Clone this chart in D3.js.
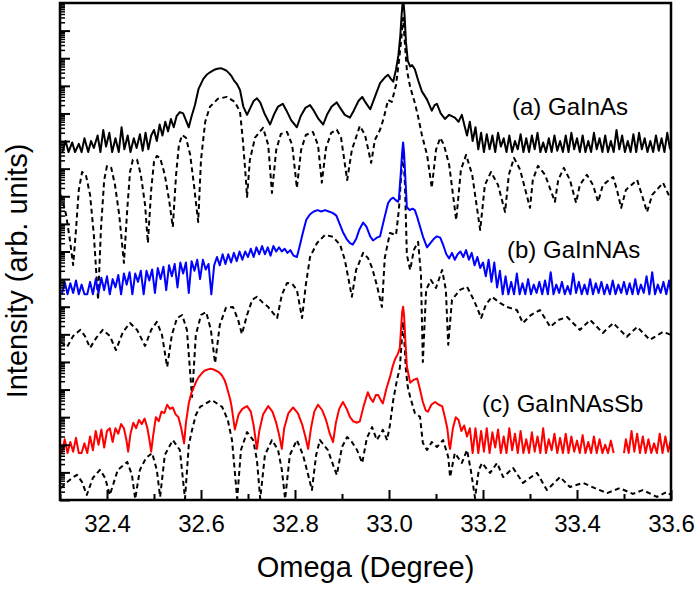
<!DOCTYPE html>
<html>
<head>
<meta charset="utf-8">
<script src="https://cdn.jsdelivr.net/npm/d3@7"></script>
<style>
body { margin: 0; background: #fff; }
text { font-family: "Liberation Sans", Arial, sans-serif; }
</style>
</head>
<body>
<script>
// x ticks
var xMajor = [32.4, 32.6, 32.8, 33.0, 33.2, 33.4, 33.6];
var xMinor = [32.3, 32.5, 32.7, 32.9, 33.1, 33.3, 33.5];
var sampleLabels = ["(a) GaInAs", "(b) GaInNAs", "(c) GaInNAsSb"];

// curves: [omega (deg), log10 intensity (arb.)], curves are stacked by offset
var gainasMeas = [[32.305,12.6],[32.312,13.0],[32.318,12.6],[32.326,12.95],[32.332,12.6],[32.340,12.9],[32.346,12.6],[32.352,13.1],[32.360,12.6],[32.366,13.0],[32.372,12.75],[32.380,13.2],[32.386,12.6],[32.392,13.4],[32.398,12.8],[32.405,13.3],[32.411,12.6],[32.418,13.1],[32.425,12.6],[32.431,13.5],[32.437,12.7],[32.444,13.2],[32.450,12.6],[32.457,13.1],[32.463,12.75],[32.470,13.25],[32.476,12.65],[32.482,13.3],[32.488,12.7],[32.494,13.2],
  [32.500,13.4],[32.506,13.0],[32.512,13.6],[32.518,13.2],[32.524,13.7],[32.530,13.35],[32.536,13.8],[32.542,13.5],[32.548,13.9],[32.555,14.05],[32.562,14.0],[32.568,13.75],[32.574,13.5],[32.580,13.9],[32.587,14.3],[32.595,14.9],[32.605,15.25],[32.612,15.4],[32.620,15.5],[32.628,15.58],[32.635,15.62],[32.642,15.64],[32.648,15.6],[32.654,15.55],[32.660,15.45],[32.665,15.35],[32.670,15.2],[32.677,15.05],[32.683,14.85],[32.690,14.25],[32.698,13.95],
  [32.705,14.2],[32.712,14.45],[32.719,14.55],[32.726,14.4],[32.735,14.0],[32.747,13.6],[32.755,13.95],[32.764,14.25],[32.774,14.35],[32.782,14.1],[32.792,13.75],[32.804,13.5],[32.812,13.9],[32.822,14.2],[32.832,14.3],[32.840,14.1],[32.850,13.8],[32.860,13.6],[32.868,13.95],[32.878,14.25],[32.889,14.4],[32.896,14.2],[32.906,13.95],[32.917,13.85],[32.925,14.1],[32.935,14.45],[32.943,14.6],[32.950,14.4],[32.960,14.15],[32.970,14.6],[32.981,15.1],[32.991,15.3],[32.998,15.4],[33.004,15.25],[33.009,15.15],[33.015,15.6],[33.020,16.1],[33.024,16.8],[33.027,17.6],[33.030,18.2],[33.033,17.6],[33.036,16.6],[33.040,15.9],[33.045,15.7],[33.049,15.75],[33.055,15.6],[33.062,15.2],[33.070,14.8],[33.081,14.5],[33.091,14.1],[33.097,14.3],[33.102,14.35],[33.110,14.0],[33.119,13.8],[33.128,13.95],[33.140,13.85],[33.148,13.7],[33.155,13.95],
  [33.160,13.6],[33.166,13.2],[33.172,13.7],[33.178,13.0],[33.184,13.5],[33.190,12.7],[33.196,13.3],[33.202,12.6],[33.208,13.25],[33.214,12.7],[33.220,13.2],[33.226,12.6],[33.232,13.3],[33.238,12.8],[33.244,13.1],[33.250,12.6],[33.256,13.2],[33.262,12.6],[33.268,13.0],[33.274,12.7],[33.280,13.25],[33.286,12.6],[33.292,13.1],[33.298,12.6],[33.304,13.2],[33.310,12.7],[33.316,13.3],[33.322,12.6],[33.328,12.95],[33.334,12.6],[33.340,13.1],[33.346,12.6],[33.352,13.2],[33.358,12.65],[33.364,13.0],[33.370,12.6],[33.376,13.2],[33.382,12.6],[33.388,13.3],[33.394,12.7],[33.400,13.1],[33.406,12.6],[33.412,13.2],[33.418,12.6],[33.424,13.0],[33.430,12.6],[33.436,13.3],[33.442,12.7],[33.448,13.1],[33.454,12.6],[33.460,13.2],[33.466,12.6],[33.472,13.0],[33.478,12.6],[33.484,13.4],[33.490,12.7],[33.496,13.2],[33.502,12.6],[33.508,13.0],[33.514,12.6],[33.520,13.25],[33.526,12.6],[33.532,13.3],[33.538,12.7],[33.544,13.1],[33.550,12.6],[33.556,13.0],[33.562,12.6],[33.568,13.2],[33.574,12.65],[33.580,13.1],[33.586,12.6],[33.592,13.3],[33.598,12.7]];

var gainasSim = [[32.302,11.05],[32.313,10.33],[32.321,9.42],[32.328,8.51],[32.334,9.78],[32.340,11.23],[32.347,11.88],[32.355,11.78],[32.364,11.05],[32.372,9.60],[32.381,7.25],[32.387,9.78],[32.394,11.59],[32.400,12.10],[32.409,12.03],[32.417,11.41],[32.426,10.33],[32.436,8.59],[32.443,10.51],[32.449,11.88],[32.455,12.32],[32.464,12.32],[32.472,11.78],[32.481,10.69],[32.487,9.31],[32.494,11.23],[32.500,12.25],[32.506,12.46],[32.513,12.39],[32.523,11.78],[32.532,10.87],[32.540,9.89],[32.547,11.78],[32.553,12.86],[32.560,13.22],[32.568,13.12],[32.577,12.50],[32.585,11.41],[32.594,10.07],[32.600,12.32],[32.609,13.70],[32.619,14.24],[32.636,14.53],[32.655,14.60],[32.672,14.42],[32.683,14.06],[32.689,13.04],[32.694,11.96],[32.698,10.98],[32.704,12.32],[32.715,13.12],[32.732,13.48],[32.743,12.86],[32.751,11.12],[32.760,12.68],[32.770,13.26],[32.783,13.33],[32.794,12.86],[32.804,11.30],[32.813,12.68],[32.823,13.22],[32.838,13.33],[32.849,12.86],[32.857,11.49],[32.866,12.75],[32.877,13.30],[32.889,13.41],[32.898,13.12],[32.911,11.59],[32.921,12.68],[32.938,13.55],[32.949,13.22],[32.962,12.21],[32.970,13.04],[32.981,13.41],[32.989,13.84],[32.998,14.49],[33.006,14.42],[33.015,15.04],[33.021,15.87],[33.026,16.67],[33.030,17.46],[33.034,16.49],[33.038,15.58],[33.045,14.96],[33.055,14.38],[33.062,13.88],[33.070,13.22],[33.081,12.50],[33.091,11.30],[33.100,12.68],[33.109,13.12],[33.117,12.86],[33.128,12.14],[33.143,10.14],[33.153,11.96],[33.164,12.50],[33.177,11.78],[33.194,9.78],[33.204,11.41],[33.217,11.88],[33.232,11.41],[33.247,10.43],[33.255,11.78],[33.266,12.39],[33.279,11.96],[33.300,10.58],[33.306,11.59],[33.317,12.10],[33.332,11.78],[33.353,10.80],[33.360,11.59],[33.372,12.03],[33.385,11.59],[33.398,10.76],[33.406,11.41],[33.421,11.78],[33.434,11.41],[33.445,10.80],[33.455,11.41],[33.477,11.70],[33.485,11.23],[33.494,10.58],[33.504,11.23],[33.528,11.59],[33.538,11.05],[33.549,10.43],[33.560,11.05],[33.583,11.49],[33.600,10.87]];

var gainnasMeas = [[32.304,7.45],[32.310,7.9],[32.316,7.45],[32.322,7.85],[32.328,7.5],[32.334,7.95],[32.340,7.45],[32.346,7.8],[32.352,7.45],[32.358,7.45],[32.364,7.9],[32.370,7.45],[32.376,8.0],[32.382,7.5],[32.388,8.05],[32.394,7.6],[32.400,8.1],[32.406,7.45],[32.412,8.0],[32.418,7.7],[32.424,8.15],[32.430,7.45],[32.436,8.2],[32.442,7.8],[32.448,8.25],[32.454,7.45],[32.460,8.2],[32.466,7.9],[32.472,8.3],[32.478,7.45],[32.484,8.3],[32.490,7.95],[32.496,8.35],[32.502,7.5],[32.508,8.4],[32.514,8.0],[32.520,8.45],[32.526,7.6],[32.532,8.5],[32.538,8.1],[32.544,8.55],[32.550,7.7],[32.556,8.6],[32.562,8.2],[32.568,8.6],[32.574,7.5],[32.580,8.65],[32.586,8.3],[32.592,8.7],[32.598,8.0],[32.604,8.7],[32.610,8.35],[32.616,8.55],[32.622,7.45],[32.628,8.5],[32.634,8.8],[32.640,8.5],[32.646,8.9],[32.652,8.55],[32.658,8.9],[32.664,8.6],[32.670,8.95],[32.676,8.65],[32.682,9.0],[32.688,8.7],[32.694,9.0],[32.700,8.8],[32.706,9.1],[32.712,8.8],[32.718,9.15],[32.724,8.9],[32.730,9.2],[32.736,8.9],[32.742,9.15],[32.748,8.85],[32.754,9.2],[32.760,9.0],[32.766,9.15],[32.772,9.0],[32.778,9.1],[32.784,8.95],[32.790,9.05],[32.797,8.85],[32.804,8.8],[32.810,9.2],[32.817,9.7],[32.824,10.15],[32.832,10.35],[32.840,10.45],[32.848,10.5],[32.856,10.45],[32.864,10.5],[32.872,10.45],[32.880,10.4],[32.888,10.3],[32.895,10.0],[32.902,9.7],[32.910,9.45],[32.917,9.3],[32.923,9.25],[32.930,9.45],[32.937,9.8],[32.945,10.05],[32.952,9.9],[32.960,9.55],[32.966,9.4],[32.974,9.5],[32.981,9.55],[32.990,10.2],[32.998,10.75],[33.004,10.9],[33.009,10.95],[33.015,10.85],[33.019,10.8],[33.021,10.9],[33.025,11.8],[33.028,12.6],[33.030,12.95],[33.032,12.6],[33.035,11.6],[33.038,10.6],[33.044,10.5],[33.050,10.55],[33.055,10.5],[33.060,10.25],[33.066,9.9],[33.073,9.5],[33.081,9.15],[33.088,9.3],[33.095,9.45],[33.102,9.55],[33.109,9.5],[33.116,9.2],[33.122,8.9],[33.128,8.75],[33.134,8.95],[33.140,8.7],[33.146,8.9],[33.152,9.0],[33.158,8.8],[33.164,9.05],[33.170,8.7],[33.176,8.95],[33.182,8.5],[33.188,8.8],[33.194,8.4],[33.200,8.6],[33.206,8.1],[33.212,8.7],[33.218,7.9],[33.224,8.6],[33.230,7.7],[33.236,8.3],[33.242,7.45],[33.248,8.1],[33.254,7.45],[33.260,7.9],[33.266,7.45],[33.272,8.2],[33.278,7.45],[33.284,7.85],[33.290,7.45],[33.296,8.0],[33.302,7.45],[33.308,7.8],[33.314,7.5],[33.320,7.9],[33.326,7.45],[33.332,7.95],[33.338,7.45],[33.344,8.25],[33.350,7.45],[33.356,7.8],[33.362,7.5],[33.368,7.9],[33.374,7.45],[33.380,7.75],[33.386,7.45],[33.392,8.2],[33.398,7.5],[33.404,7.9],[33.410,7.45],[33.416,7.8],[33.422,7.45],[33.428,8.0],[33.434,7.45],[33.440,7.85],[33.446,7.5],[33.452,7.9],[33.458,7.45],[33.464,7.8],[33.470,7.45],[33.476,7.95],[33.482,7.45],[33.488,7.8],[33.494,7.5],[33.500,7.9],[33.506,7.45],[33.512,7.85],[33.518,7.45],[33.524,8.0],[33.530,7.45],[33.536,7.8],[33.542,7.5],[33.548,8.1],[33.554,7.45],[33.560,8.25],[33.566,7.45],[33.572,7.8],[33.578,7.5],[33.584,7.9],[33.590,7.45],[33.596,7.95],[33.600,7.5]];

var gainnasSim = [[32.302,5.72],[32.315,5.54],[32.328,5.94],[32.343,6.16],[32.353,5.94],[32.364,5.51],[32.377,5.87],[32.391,6.16],[32.406,5.94],[32.419,5.43],[32.434,6.09],[32.449,6.41],[32.464,6.16],[32.481,5.58],[32.494,6.16],[32.506,6.45],[32.517,5.98],[32.528,4.82],[32.538,5.98],[32.549,6.59],[32.560,6.70],[32.570,6.16],[32.581,3.73],[32.589,5.98],[32.600,6.70],[32.611,6.81],[32.621,6.16],[32.630,4.96],[32.640,6.34],[32.653,6.96],[32.668,6.99],[32.679,6.52],[32.687,6.01],[32.698,6.70],[32.709,7.25],[32.719,7.36],[32.732,7.14],[32.743,6.99],[32.753,6.78],[32.762,6.59],[32.772,7.43],[32.783,7.86],[32.794,7.83],[32.804,7.61],[32.815,6.59],[32.823,7.79],[32.832,8.80],[32.847,9.31],[32.864,9.60],[32.881,9.53],[32.896,9.24],[32.906,8.70],[32.913,8.08],[32.921,7.36],[32.930,8.33],[32.945,8.95],[32.955,8.77],[32.964,8.41],[32.974,7.79],[32.985,6.99],[32.991,8.77],[33.002,9.67],[33.015,9.60],[33.021,10.51],[33.026,11.78],[33.030,12.61],[33.034,11.41],[33.038,8.88],[33.045,8.33],[33.053,9.06],[33.062,9.35],[33.068,8.15],[33.072,5.00],[33.079,7.61],[33.089,7.97],[33.100,7.68],[33.113,8.33],[33.121,7.61],[33.126,5.62],[33.134,7.25],[33.151,7.61],[33.166,7.72],[33.177,7.36],[33.187,6.99],[33.196,6.59],[33.206,7.07],[33.219,7.36],[33.236,7.14],[33.251,6.99],[33.272,6.88],[33.285,6.41],[33.302,6.70],[33.321,6.88],[33.343,6.27],[33.360,6.52],[33.379,6.63],[33.406,6.16],[33.428,6.52],[33.455,6.05],[33.477,6.41],[33.506,5.91],[33.528,6.27],[33.555,5.80],[33.583,6.09],[33.600,5.98]];

var gainnassbMeas = [[32.304,1.7],[32.310,2.2],[32.316,1.7],[32.322,2.1],[32.328,1.75],[32.334,2.25],[32.340,1.7],[32.346,1.7],[32.352,2.05],[32.358,1.7],[32.364,2.3],[32.370,1.8],[32.376,2.5],[32.382,2.0],[32.388,2.55],[32.394,1.9],[32.400,2.5],[32.406,2.6],[32.412,2.1],[32.418,2.6],[32.424,2.4],[32.430,2.75],[32.436,2.6],[32.441,2.2],[32.445,1.75],[32.450,2.4],[32.456,2.8],[32.462,2.6],[32.468,2.9],[32.474,2.75],[32.480,2.95],[32.486,2.6],[32.491,2.1],[32.494,1.75],[32.498,2.3],[32.504,3.0],[32.510,2.85],[32.516,3.2],[32.522,3.15],[32.528,3.45],[32.534,3.3],[32.540,3.35],[32.546,3.1],[32.552,3.0],[32.558,2.6],[32.564,2.05],[32.568,2.8],[32.574,3.5],[32.580,3.9],[32.585,4.1],[32.590,4.3],[32.595,4.45],[32.600,4.55],[32.605,4.65],[32.610,4.7],[32.615,4.73],[32.620,4.75],[32.625,4.74],[32.630,4.7],[32.635,4.66],[32.640,4.6],[32.645,4.5],[32.650,4.35],[32.654,4.15],[32.658,3.9],[32.662,3.65],[32.665,3.4],[32.672,2.55],[32.680,3.1],[32.688,3.3],[32.698,3.4],[32.706,3.2],[32.712,2.7],[32.716,2.2],[32.719,1.85],[32.724,2.5],[32.732,3.1],[32.743,3.4],[32.752,3.2],[32.760,2.8],[32.767,2.3],[32.772,1.85],[32.777,2.6],[32.786,3.15],[32.796,3.35],[32.806,3.15],[32.815,2.75],[32.822,2.3],[32.828,1.85],[32.834,2.6],[32.841,3.2],[32.849,3.45],[32.858,3.25],[32.866,2.9],[32.874,2.4],[32.881,2.1],[32.887,2.8],[32.894,3.3],[32.902,3.55],[32.910,3.3],[32.917,3.0],[32.924,2.85],[32.932,2.8],[32.938,2.85],[32.946,3.4],[32.955,3.9],[32.960,3.7],[32.966,3.55],[32.972,3.8],[32.977,3.8],[32.983,3.6],[32.987,3.5],[32.994,4.0],[33.002,4.45],[33.008,4.85],[33.013,5.1],[33.019,5.3],[33.023,5.5],[33.026,6.3],[33.028,6.8],[33.030,7.0],[33.032,6.7],[33.035,5.7],[33.038,4.85],[33.042,4.5],[33.045,4.25],[33.052,4.35],[33.060,4.4],[33.066,4.0],[33.072,3.55],[33.078,3.25],[33.083,3.2],[33.090,3.45],[33.098,3.55],[33.106,3.45],[33.113,3.4],[33.119,3.0],[33.124,2.6],[33.128,2.0],[33.130,1.85],[33.136,2.6],[33.142,3.0],[33.148,2.9],[33.154,2.5],[33.160,2.7],[33.166,2.3],[33.172,2.6],[33.178,1.7],[33.184,2.6],[33.190,1.7],[33.196,2.5],[33.202,1.75],[33.208,2.6],[33.214,1.7],[33.220,2.45],[33.226,1.9],[33.232,2.55],[33.238,1.7],[33.244,2.3],[33.250,1.7],[33.256,2.6],[33.262,1.8],[33.268,2.4],[33.274,1.7],[33.280,2.5],[33.286,1.7],[33.292,2.2],[33.298,1.7],[33.304,2.45],[33.310,1.75],[33.316,2.3],[33.322,1.7],[33.328,2.6],[33.334,1.7],[33.340,2.2],[33.346,1.8],[33.352,2.4],[33.358,1.7],[33.364,2.25],[33.370,1.7],[33.376,2.4],[33.382,1.7],[33.388,2.3],[33.394,1.75],[33.400,2.15],[33.406,1.7],[33.412,2.35],[33.418,1.7],[33.424,2.1],[33.430,1.7],[33.436,2.3],[33.442,1.7],[33.448,2.2],[33.454,1.7],[33.460,2.0],[33.466,1.7],[33.472,2.15],[33.478,1.7],[33.484,null],[33.500,1.7],[33.504,2.2],[33.510,1.7],[33.516,2.5],[33.522,1.75],[33.528,2.4],[33.534,1.7],[33.540,2.3],[33.546,1.7],[33.552,2.2],[33.558,1.7],[33.564,2.05],[33.570,1.7],[33.576,2.4],[33.582,1.7],[33.588,2.3],[33.594,1.75],[33.600,2.2]];

var gainnassbSim = [[32.302,0.43],[32.313,0.62],[32.326,0.80],[32.336,0.91],[32.347,0.65],[32.357,0.18],[32.370,0.80],[32.385,1.09],[32.396,0.80],[32.406,0.18],[32.423,1.09],[32.443,1.38],[32.453,0.91],[32.460,0.04],[32.470,1.09],[32.483,1.52],[32.496,1.70],[32.506,1.09],[32.513,0.11],[32.523,1.63],[32.540,2.17],[32.555,1.81],[32.566,0.04],[32.574,1.99],[32.581,2.54],[32.589,3.08],[32.598,3.37],[32.623,3.62],[32.645,3.37],[32.657,2.90],[32.666,2.17],[32.677,0.04],[32.685,1.81],[32.698,2.46],[32.711,2.17],[32.719,1.45],[32.726,0.04],[32.736,1.63],[32.751,2.17],[32.764,1.81],[32.772,1.09],[32.779,0.04],[32.789,1.63],[32.804,2.17],[32.817,1.63],[32.828,0.91],[32.836,0.36],[32.845,1.63],[32.853,2.17],[32.870,1.81],[32.881,1.27],[32.889,0.91],[32.900,1.92],[32.911,2.28],[32.921,2.10],[32.932,1.81],[32.943,1.34],[32.953,2.25],[32.964,2.64],[32.974,2.17],[32.981,2.36],[32.987,2.54],[32.996,2.17],[33.002,2.72],[33.009,3.62],[33.017,4.35],[33.023,4.78],[33.028,5.98],[33.030,6.45],[33.032,5.98],[33.036,4.71],[33.040,4.09],[33.045,3.73],[33.055,3.15],[33.066,3.01],[33.072,2.07],[33.081,1.81],[33.091,2.10],[33.102,1.92],[33.115,2.17],[33.126,1.56],[33.130,0.83],[33.140,1.70],[33.155,1.34],[33.166,1.81],[33.174,1.09],[33.183,0.07],[33.191,1.09],[33.198,1.34],[33.215,0.98],[33.230,1.34],[33.243,0.83],[33.264,1.16],[33.285,0.62],[33.315,0.98],[33.336,0.36],[33.364,0.83],[33.385,0.47],[33.413,0.62],[33.438,0.43],[33.464,0.25],[33.491,0.43],[33.519,0.22],[33.540,0.36],[33.570,0.11],[33.591,0.29],[33.600,0.18]];

var width = 700, height = 589;
// plot box edges (note: "top" is a reserved window name)
var plotL = 60, plotR = 671, plotT = 3, plotB = 500;

var svg = d3.select("body").append("svg")
  .attr("width", width)
  .attr("height", height);

var x = d3.scaleLinear().domain([32.3, 33.6]).range([plotL, plotR]);
var y = d3.scaleLog().domain([1, 1e18]).range([plotB, plotT]);

svg.append("clipPath").attr("id", "plot")
  .append("rect").attr("x", plotL).attr("y", plotT)
  .attr("width", plotR - plotL).attr("height", plotB - plotT);

var line = d3.line()
  .defined(function(d) { return d[1] != null; })
  .x(function(d) { return x(d[0]); })
  .y(function(d) { return y(Math.pow(10, d[1])); });

var curves = [
  {data: gainasSim, color: "#000", dash: "5,3.5"},
  {data: gainnasSim, color: "#000", dash: "5,3.5"},
  {data: gainnassbSim, color: "#000", dash: "5,3.5"},
  {data: gainasMeas, color: "#000", dash: null},
  {data: gainnasMeas, color: "#0000ff", dash: null},
  {data: gainnassbMeas, color: "#ff0000", dash: null}
];

var g = svg.append("g").attr("clip-path", "url(#plot)");
g.selectAll("path")
  .data(curves).enter().append("path")
  .attr("d", function(d) { return line(d.data); })
  .attr("fill", "none")
  .attr("stroke", function(d) { return d.color; })
  .attr("stroke-width", 2)
  .attr("stroke-linejoin", "round")
  .attr("stroke-dasharray", function(d) { return d.dash; });

// bottom axis, ticks pointing inward
var xAxis = svg.append("g")
  .attr("transform", "translate(0," + plotB + ")")
  .call(d3.axisBottom(x).tickValues(xMajor).tickSize(-10).tickPadding(15)
    .tickFormat(d3.format(".1f")));
xAxis.select(".domain").remove();
xAxis.selectAll("line").attr("stroke-width", 2);
xAxis.selectAll("text").attr("font-size", 24).attr("font-family", "Liberation Sans, Arial");

var xAxisMinor = svg.append("g")
  .attr("transform", "translate(0," + plotB + ")")
  .call(d3.axisBottom(x).tickValues(xMinor).tickSize(-6).tickFormat(""));
xAxisMinor.select(".domain").remove();
xAxisMinor.selectAll("line").attr("stroke-width", 2);

// left log axis, decades and minor ticks, no labels
var yMajor = [], yMinor = [];
for (var p = 0; p < 18; p++) {
  yMajor.push(Math.pow(10, p));
  for (var k = 2; k < 10; k++) yMinor.push(k * Math.pow(10, p));
}
var yAxis = svg.append("g")
  .attr("transform", "translate(" + plotL + ",0)")
  .call(d3.axisLeft(y).tickValues(yMajor).tickSize(-10).tickFormat(""));
yAxis.select(".domain").remove();
yAxis.selectAll("line").attr("stroke-width", 2);
var yAxisMinor = svg.append("g")
  .attr("transform", "translate(" + plotL + ",0)")
  .call(d3.axisLeft(y).tickValues(yMinor).tickSize(-5).tickFormat(""));
yAxisMinor.select(".domain").remove();
yAxisMinor.selectAll("line").attr("stroke-width", 1.5);

// frame
svg.append("rect")
  .attr("x", plotL).attr("y", plotT)
  .attr("width", plotR - plotL).attr("height", plotB - plotT)
  .attr("fill", "none").attr("stroke", "#000").attr("stroke-width", 2.5);

// sample labels
var labelPos = [[512, 115], [507, 258], [482, 412]];
svg.selectAll(".lab")
  .data(sampleLabels).enter().append("text")
  .attr("class", "lab")
  .attr("x", function(d, i) { return labelPos[i][0]; })
  .attr("y", function(d, i) { return labelPos[i][1]; })
  .attr("font-size", 24)
  .attr("fill", "#000")
  .text(function(d) { return d; });

// axis titles
svg.append("text")
  .attr("x", (plotL + plotR) / 2).attr("y", 577)
  .attr("text-anchor", "middle")
  .attr("font-size", 29)
  .text("Omega (Degree)");
svg.append("text")
  .attr("transform", "translate(27," + 271 + ") rotate(-90)")
  .attr("text-anchor", "middle")
  .attr("font-size", 29)
  .text("Intensity (arb. units)");
</script>
</body>
</html>
